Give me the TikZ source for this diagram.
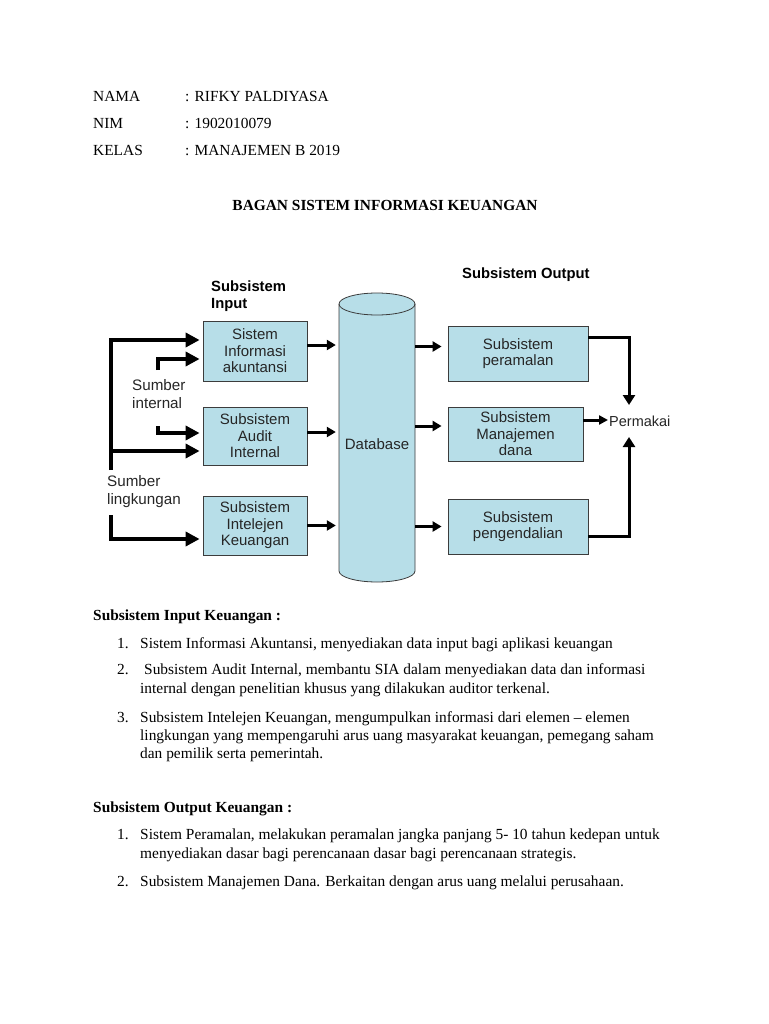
\documentclass[tikz,border=0pt]{standalone}
\usepackage{fontspec}
\setmainfont{Liberation Serif}
\newfontfamily\arialf{Liberation Sans}
\usetikzlibrary{arrows.meta}
\definecolor{boxblue}{RGB}{183,222,232}
\definecolor{boxline}{RGB}{60,60,60}
\begin{document}
\begin{tikzpicture}[x=1pt,y=1pt,
  txt/.style={anchor=base west,inner sep=0pt,font=\fontsize{15.4}{18}\selectfont},
  btxt/.style={txt,font=\fontsize{15.4}{18}\selectfont\bfseries},
  sbox/.style={draw=boxline,line width=0.8pt,fill=boxblue,align=center,inner sep=0pt,
     font=\arialf\fontsize{15}{16.5}\selectfont,text=black!85},
  lbl/.style={anchor=west,align=left,inner sep=0pt,font=\arialf\fontsize{15.2}{17.5}\selectfont,text=black!85},
  hdr/.style={anchor=west,align=left,inner sep=0pt,font=\arialf\fontsize{14.8}{17}\selectfont\bfseries},
  arr/.style={line width=4pt,-{Triangle[length=14pt,width=14pt]},line join=miter},
  sarr/.style={line width=3pt,-{Triangle[length=9pt,width=10pt]},line join=miter},
]
\useasboundingbox[fill=white] (0,0) rectangle (768,-1024);

% header
\node[txt] (nama) at (93,-102) {NAMA};
\node[txt] (namav) at (185,-102) {: RIFKY PALDIYASA};
\node[txt] (nim) at (93,-129) {NIM};
\node[txt] (nimv) at (185,-129) {: 1902010079};
\node[txt] (kelas) at (93,-156) {KELAS};
\node[txt] (kelasv) at (185,-156) {: MANAJEMEN B 2019};
\node[btxt,anchor=base] (title) at (385,-211) {BAGAN SISTEM INFORMASI KEUANGAN};

% diagram headers
\node[hdr] (hin) at (211,-296) {Subsistem\\Input};
\node[hdr] (hout) at (462,-275) {Subsistem Output};

% input boxes
\node[sbox,minimum width=104pt,minimum height=60pt] (b1) at (255,-351) {Sistem\\Informasi\\akuntansi};
\node[sbox,minimum width=104pt,minimum height=58pt] (b2) at (255,-436) {Subsistem\\Audit\\Internal};
\node[sbox,minimum width=104pt,minimum height=59pt] (b3) at (255,-525.5) {Subsistem\\Intelejen\\Keuangan};

% database cylinder
\fill[boxblue] (339,-304) -- (339,-571) arc[start angle=180,end angle=360,x radius=38,y radius=11]
   -- (415,-304) arc[start angle=0,end angle=180,x radius=38,y radius=11] -- cycle;
\draw[boxline,line width=0.8pt] (339,-304) -- (339,-571) arc[start angle=180,end angle=360,x radius=38,y radius=11] -- (415,-304);
\draw[boxline,line width=0.8pt] (377,-304) ellipse[x radius=38,y radius=11];
\node[inner sep=0pt,minimum width=76pt,minimum height=289pt,font=\arialf\fontsize{15}{16.5}\selectfont,text=black!85] (db) at (377,-444) {Database};

% output boxes
\node[sbox,minimum width=140pt,minimum height=55pt] (a1) at (518,-353.5) {Subsistem\\peramalan};
\node[sbox,minimum width=135pt,minimum height=54pt] (a2) at (515.5,-434) {Subsistem\\Manajemen\\dana};
\node[sbox,minimum width=140pt,minimum height=55pt] (a3) at (518,-526.5) {Subsistem\\pengendalian};
\node[inner sep=1pt,anchor=west,font=\arialf\fontsize{14.5}{16.5}\selectfont,text=black!85] (user) at (608,-421) {Permakai};

% left labels
\node[lbl] (sint) at (132,-394) {Sumber\\internal};
\node[lbl] (sling) at (107,-491.5) {Sumber\\lingkungan};

% left connectors
\coordinate (lb) at (111,-470);
\coordinate (lt) at (111,-340);
\coordinate (lm) at (111,-451);
\coordinate (s1) at (158,-370);
\coordinate (s1t) at (158,-359);
\coordinate (s2) at (158,-426);
\coordinate (s2b) at (158,-433);
\coordinate (l3) at (111,-515);
\coordinate (l3b) at (111,-539);
\draw[arr,shorten >=3pt] (lb) -- (lt) -- (lt -| b1.west);
\draw[arr,shorten >=3pt] (lm) -- (lm -| b2.west);
\draw[arr,shorten >=3pt] (s1) -- (s1t) -- (s1t -| b1.west);
\draw[arr,shorten >=3pt] (s2) -- (s2b) -- (s2b -| b2.west);
\draw[arr,shorten >=3pt] (l3) -- (l3b) -- (l3b -| b3.west);

% boxes to database
\draw[sarr,shorten >=3pt] ([yshift=6]b1.east) -- ([yshift=6]b1.east -| db.west);
\draw[sarr,shorten >=3pt] ([yshift=4]b2.east) -- ([yshift=4]b2.east -| db.west);
\draw[sarr,shorten >=3pt] (b3.east) -- (b3.east -| db.west);

% database to output boxes
\draw[sarr,shorten >=6pt] ([yshift=7]a1.west -| db.east) -- ([yshift=7]a1.west);
\draw[sarr,shorten >=6pt] ([yshift=8]a2.west -| db.east) -- ([yshift=8]a2.west);
\draw[sarr,shorten >=6pt] (a3.west -| db.east) -- (a3.west);

% to Permakai
\coordinate (pt) at (629,-405);
\coordinate (pb) at (629,-437);
\draw[sarr,-{Triangle[length=10pt,width=12pt]}] ([yshift=16]a1.east) -| (pt);
\draw[sarr,-{Triangle[length=10pt,width=12pt]}] ([yshift=-10]a3.east) -| (pb);
\draw[sarr,-{Triangle[length=9pt,width=9pt]}] ([yshift=14]a2.east) -- ([yshift=14]a2.east -| user.west);

% body text
\node[btxt] (sin) at (93,-620) {Subsistem Input Keuangan :};
\node[txt] (i1n) at (117,-648) {1.};
\node[txt] (i1a) at (140,-648) {Sistem Informasi Akuntansi, menyediakan data input bagi aplikasi keuangan};
\node[txt] (i2n) at (117,-674) {2.};
\node[txt] (i2a) at (144,-674) {Subsistem Audit Internal, membantu SIA dalam menyediakan data dan informasi};
\node[txt] (i2b) at (140,-693) {internal dengan penelitian khusus yang dilakukan auditor terkenal.};
\node[txt] (i3n) at (117,-722) {3.};
\node[txt] (i3a) at (140,-722) {Subsistem Intelejen Keuangan, mengumpulkan informasi dari elemen -- elemen};
\node[txt] (i3b) at (140,-740) {lingkungan yang mempengaruhi arus uang masyarakat keuangan, pemegang saham};
\node[txt] (i3c) at (140,-758) {dan pemilik serta pemerintah.};

\node[btxt] (sout) at (93,-812) {Subsistem Output Keuangan :};
\node[txt] (o1n) at (117,-839) {1.};
\node[txt] (o1a) at (140,-839) {Sistem Peramalan, melakukan peramalan jangka panjang 5- 10 tahun kedepan untuk};
\node[txt] (o1b) at (140,-858) {menyediakan dasar bagi perencanaan dasar bagi perencanaan strategis.};
\node[txt] (o2n) at (117,-886) {2.};
\node[txt] (o2a) at (140,-886) {Subsistem Manajemen Dana. Berkaitan dengan arus uang melalui perusahaan.};
\end{tikzpicture}
\end{document}
